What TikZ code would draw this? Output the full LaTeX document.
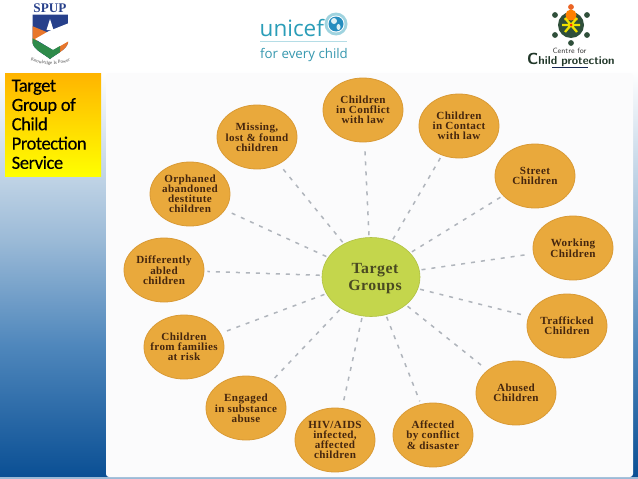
\documentclass[tikz,border=0pt]{standalone}
\usepackage{fontspec}
\setmainfont{Liberation Serif}
\newfontfamily\boxfont[LetterSpace=-2.5,FakeBold=0.25]{Carlito}
\newfontfamily\logofont{Open Sans}
\newfontfamily\labelfont[LetterSpace=3.5,FakeStretch=1.02]{Liberation Serif}
\usetikzlibrary{shapes.geometric,decorations.text}
\definecolor{orangefill}{HTML}{E9A93C}
\definecolor{orangeedge}{HTML}{D99A35}
\definecolor{limefill}{HTML}{C4D64C}
\definecolor{labelbrown}{HTML}{45260E}
\definecolor{hubtext}{HTML}{4A4A22}
\definecolor{spokegrey}{HTML}{B0B5BC}
\definecolor{bluemid}{HTML}{9BBAD7}
\definecolor{bluelow}{HTML}{4F87BC}
\definecolor{bluedeep}{HTML}{0A4F94}
\definecolor{uniblue}{HTML}{2A9DB8}
\definecolor{navy}{HTML}{27408B}
\definecolor{spupor}{HTML}{E8762B}
\definecolor{spupgr}{HTML}{2E8B4A}
\definecolor{ccpgreen}{HTML}{2F4F3A}
\definecolor{panelwhite}{HTML}{FBFBFC}
\definecolor{boxtop}{HTML}{FFB400}
\tikzset{
  topic/.style={ellipse,draw=orangeedge,line width=.8pt,fill=orangefill,minimum width=80pt,minimum height=64pt,inner sep=-9pt,
    align=center,text=labelbrown,font=\labelfont\bfseries\fontsize{10.9}{9.9}\selectfont},
  hub/.style={ellipse,fill=limefill,draw=limefill!90!black,line width=.6pt,minimum width=98pt,minimum height=79pt,inner sep=0pt},
  hublabel/.style={inner sep=0pt,align=center,text=hubtext,font=\labelfont\bfseries\fontsize{15.5}{17}\selectfont},
  spoke/.style={draw=spokegrey,line width=1.5pt,dash pattern=on 4pt off 6pt,shorten >=3pt,shorten <=2pt},
  titlebox/.style={anchor=north west,inner sep=0pt,align=left,text=black,font=\boxfont\fontsize{18.6}{19.3}\selectfont}
}
\begin{document}
\begin{tikzpicture}[x=1pt,y=-1pt]
\useasboundingbox (0,0) rectangle (638,479);
% slide background
\fill[white] (0,0) rectangle (638,479);
\path[top color=white,bottom color=bluemid] (0,70) rectangle (638,240);
\path[top color=bluemid,bottom color=bluelow] (0,240) rectangle (638,345);
\path[top color=bluelow,bottom color=bluedeep] (0,345) rectangle (638,477.5);
\fill[bluemid] (0,477) rectangle (638,479);
% picture panel
\fill[panelwhite,rounded corners=3pt] (106,73) rectangle (633,477);
% title box
\path[top color=boxtop,bottom color=yellow] (5,73) rectangle (101,176);
\node[titlebox] (title) at (11.5,79.5) {Target\\Group of\\Child\\Protection\\Service};
% spokes' nodes
\node[hub] (hub) at (371,277) {};
\node[hublabel] (hubname) at (375,278.5) {Target\\[0.5pt]Groups};
\node[topic] (conflict) at (363,110) {Children\\in Conflict\\with law};
\node[topic] (contact) at (459,126) {Children\\in Contact\\with law};
\node[topic] (street) at (535,176) {Street\\Children};
\node[topic] (working) at (573,248) {Working\\Children};
\node[topic] (trafficked) at (567,326) {Trafficked\\Children};
\node[topic] (abused) at (516,393) {Abused\\Children};
\node[topic] (affected) at (433,435) {Affected\\by conflict\\\& disaster};
\node[topic] (hiv) at (335,440) {HIV/AIDS\\infected,\\affected\\children};
\node[topic] (engaged) at (246,408) {Engaged\\in substance\\abuse};
\node[topic] (families) at (184,347) {Children\\from families\\at risk};
\node[topic] (abled) at (164,270) {Differently\\abled\\children};
\node[topic] (orphaned) at (190,194) {Orphaned\\abandoned\\destitute\\children};
\node[topic] (missing) at (257,137) {Missing,\\lost \& found\\children};
\foreach \n in {conflict,contact,street,working,trafficked,abused,affected,hiv,engaged,families,abled,orphaned,missing}
  \draw[spoke] (hub) -- (\n);
% SPUP logo
\node[font=\bfseries,text=navy,inner sep=0pt] (spup) at (50,8.5) {\fontsize{13.2}{13}\selectfont SPUP};
\begin{scope}
  \clip (32.5,14.5) -- (68,14.5) -- (68,43) .. controls (66,50) and (56,54) .. (50,59) .. controls (44,54) and (34,50) .. (32.5,43) -- cycle;
  \fill[navy] (32,14) rectangle (69,60);
  \fill[spupor] (32,26) -- (49,33) -- (33,43) -- (32,43) -- cycle;
  \fill[white] (49,31) -- (69,23) -- (69,42) -- (53,50) -- (35,39) -- cycle;
  \fill[spupor] (69,41) -- (69,47) -- (58,54) -- (57,48) -- cycle;
  \fill[spupgr] (32,38) -- (53,50) -- (60,46) -- (60,53) -- (50,60) -- (32,48) -- cycle;
  \fill[white] (50,19) -- (46.5,30) -- (53.5,30) -- cycle;
\end{scope}
\path[decorate,decoration={text along path,text align=center,text={|\fontsize{4.8}{5}\selectfont\color{black!70}|Knowledge Is Power}}]
  (25,58.5) .. controls (40,66) and (60,66) .. (76,59.5);
% UNICEF logo
\node[anchor=base west,inner sep=0pt,text=uniblue,font=\logofont\fontsize{22.5}{23}\selectfont] (unicefword) at (259.5,36) {unicef};
\node[anchor=base west,inner sep=0pt,text=uniblue!85!gray,font=\logofont\fontsize{13.3}{15}\selectfont] (unicefline) at (260,58) {for every child};
\draw[uniblue!35,line width=.7pt] (260,41) -- (347,41);
\fill[uniblue!45] (336,24) circle (11.5);
\fill[white] (336,24) circle (8.5);
\fill[uniblue!90!blue] (336,24) circle (7.5);
\fill[white!85!uniblue] (334,21) circle (3) (338.5,27) ellipse (2 and 3);
% Child protection logo
\foreach \a/\b in {555/15,587/15,555/35,587/35,571/43}
  \fill[ccpgreen] (\a,\b) circle (2.9);
\fill[spupor!85!red] (571,7) circle (2.9);
\fill[ccpgreen] (571,25) circle (13);
\fill[orange] (571,12) -- (564,20) -- (578,20) -- cycle;
\fill[orange] (571,15) circle (5.5);
\draw[yellow!85!olive,line width=2.3pt] (562,25) -- (580,25) (565,18) -- (577,32) (577,18) -- (565,32);
\fill[red!70!orange] (571,25) circle (1.5);
\node[inner sep=0pt,text=black!75,font=\sffamily\fontsize{7.6}{8}\selectfont] (centre) at (569.5,51) {Centre for};
\node[anchor=base west,inner sep=0pt,text=ccpgreen!70!black,font=\sffamily\bfseries\fontsize{11.5}{11}\selectfont] (childprot) at (527,64.5) {{\fontsize{16}{16}\selectfont C}hild protection};
\draw[navy!60!black,line width=.8pt] (552,67.5) -- (588,67.5);
\end{tikzpicture}
\end{document}
